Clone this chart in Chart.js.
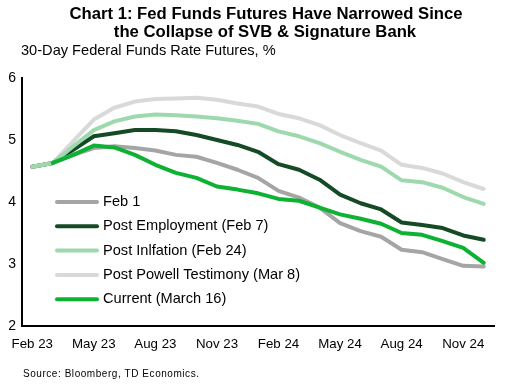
<!DOCTYPE html>
<html>
<head>
<meta charset="utf-8">
<script src="https://cdn.jsdelivr.net/npm/chart.js@4"></script>
<style>
  html, body { margin: 0; padding: 0; background: #fff; }
  #wrap { width: 516px; height: 386px; position: relative; }
</style>
</head>
<body>
<div id="wrap"><canvas id="chart"></canvas></div>
<script>
'use strict';

let canvasElem = document.getElementById('chart');

// monthly contracts, Feb 23 - Dec 24
let months = ['Feb 23', 'Mar 23', 'Apr 23', 'May 23', 'Jun 23', 'Jul 23', 'Aug 23', 'Sep 23',
  'Oct 23', 'Nov 23', 'Dec 23', 'Jan 24', 'Feb 24', 'Mar 24', 'Apr 24', 'May 24', 'Jun 24',
  'Jul 24', 'Aug 24', 'Sep 24', 'Oct 24', 'Nov 24', 'Dec 24'];

let feb1 = [4.57, 4.63, 4.76, 4.87, 4.90, 4.87, 4.83, 4.76, 4.73, 4.63, 4.52, 4.39,
  4.18, 4.07, 3.91, 3.66, 3.53, 3.44, 3.23, 3.19, 3.08, 2.97, 2.96];
let postEmployment = [4.57, 4.63, 4.84, 5.06, 5.11, 5.16, 5.16, 5.14, 5.08, 5.00, 4.92, 4.81,
  4.61, 4.52, 4.36, 4.12, 3.98, 3.88, 3.67, 3.63, 3.58, 3.46, 3.39];
let postInflation = [4.57, 4.63, 4.90, 5.16, 5.30, 5.38, 5.41, 5.40, 5.38, 5.35, 5.31, 5.26,
  5.14, 5.06, 4.95, 4.81, 4.68, 4.57, 4.35, 4.32, 4.23, 4.08, 3.97];
let postPowell = [4.57, 4.63, 4.98, 5.33, 5.52, 5.62, 5.66, 5.67, 5.68, 5.65, 5.59, 5.54,
  5.42, 5.35, 5.24, 5.08, 4.95, 4.83, 4.60, 4.55, 4.46, 4.32, 4.21];
let current = [null, 4.63, 4.76, 4.91, 4.88, 4.76, 4.60, 4.47, 4.39, 4.25, 4.20, 4.14,
  4.05, 4.02, 3.91, 3.80, 3.73, 3.65, 3.50, 3.47, 3.37, 3.26, 3.02];

let seriesNames = ['Feb 1', 'Post Employment (Feb 7)', 'Post Inlfation (Feb 24)',
  'Post Powell Testimony (Mar 8)', 'Current (March 16)'];
let seriesColors = ['#a5a5a5', '#154a26', '#9ed8ad', '#d9d9d9', '#0db232'];

let titleLines = ['Chart 1: Fed Funds Futures Have Narrowed Since', 'the Collapse of SVB & Signature Bank'];
let subTitle = '30-Day Federal Funds Rate Futures, %';
let sourceText = 'Source: Bloomberg, TD Economics.';

let FONT = "'Liberation Sans', Arial, sans-serif";

function makeSet(i, values, order) {
  return {
    label: seriesNames[i],
    data: values,
    borderColor: seriesColors[i],
    backgroundColor: seriesColors[i],
    borderWidth: 4,
    pointRadius: 0,
    tension: 0,
    borderCapStyle: 'round',
    borderJoinStyle: 'round',
    order: order
  };
}

// texts + legend inside the plot
let extrasPlugin = {
  id: 'extras',
  afterDraw(chart) {
    let ctx = chart.ctx;
    ctx.save();
    ctx.fillStyle = '#000';
    ctx.textBaseline = 'middle';

    ctx.font = 'bold 16.7px ' + FONT;
    ctx.textAlign = 'center';
    ctx.fillText(titleLines[0], 266, 14);
    ctx.fillText(titleLines[1], 265, 32);

    ctx.font = '14.6px ' + FONT;
    ctx.textAlign = 'left';
    ctx.fillText(subTitle, 21, 51);

    ctx.font = '10px ' + FONT;
    ctx.letterSpacing = '0.55px';
    ctx.fillText(sourceText, 23, 374);
    ctx.letterSpacing = '0px';

    // legend
    ctx.font = '14.6px ' + FONT;
    for (let i = 0; i < seriesNames.length; i++) {
      let y = 202 + i * 24.3;
      ctx.strokeStyle = seriesColors[i];
      ctx.lineWidth = 4;
      ctx.lineCap = 'round';
      ctx.beginPath();
      ctx.moveTo(57, y);
      ctx.lineTo(97, y);
      ctx.stroke();
      ctx.fillStyle = '#000';
      ctx.fillText(seriesNames[i], 103, y);
    }
    ctx.restore();
  }
};

function renderChart() {
  let chartObj = {
    type: 'line',
    data: {
      labels: months,
      datasets: [
        makeSet(0, feb1, 2),
        makeSet(1, postEmployment, 3),
        makeSet(2, postInflation, 1),
        makeSet(3, postPowell, 4),
        makeSet(4, current, 0)
      ]
    },
    options: {
      responsive: true,
      maintainAspectRatio: false,
      animation: false,
      layout: {
        padding: { top: 78, right: 22, bottom: 0, left: 0 }
      },
      plugins: {
        legend: { display: false },
        tooltip: { enabled: false },
        title: { display: false }
      },
      scales: {
        x: {
          offset: true,
          grid: { display: false, drawTicks: false },
          border: { display: true, color: '#000', width: 2 },
          ticks: {
            autoSkip: false,
            maxRotation: 0,
            padding: 10,
            color: '#000',
            font: { family: FONT, size: 13.3 },
            callback: function (val, idx) {
              return idx % 3 === 0 ? months[idx] : '';
            }
          },
          afterFit: function (scale) { scale.height = 60; }
        },
        y: {
          min: 2,
          max: 6,
          grid: { display: false, drawTicks: false },
          border: { display: true, color: '#000', width: 2 },
          ticks: {
            stepSize: 1,
            padding: 6,
            color: '#000',
            font: { family: FONT, size: 14 }
          },
          afterFit: function (scale) { scale.width = 22; }
        }
      }
    },
    plugins: [extrasPlugin]
  };
  new Chart(canvasElem, chartObj);
}

renderChart();
</script>
</body>
</html>
